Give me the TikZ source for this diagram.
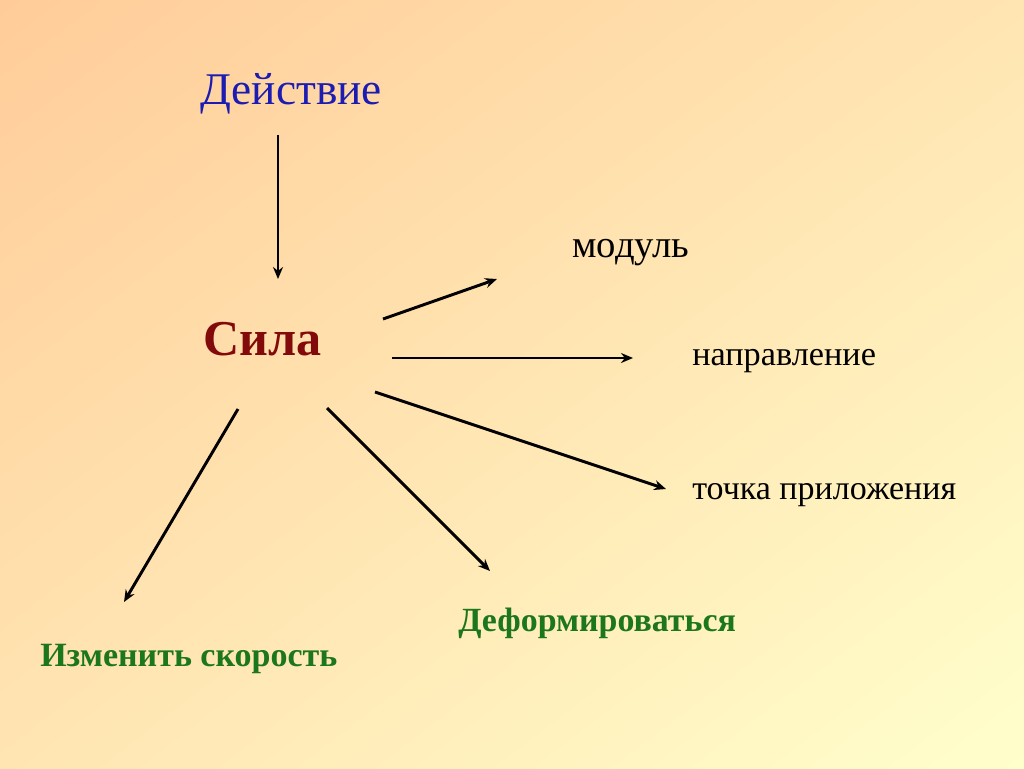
\documentclass[tikz,border=0pt]{standalone}
\usepackage{fontspec}
\setmainfont{Liberation Serif}
\usetikzlibrary{arrows.meta,shadings}
\definecolor{bgA}{RGB}{255,204,153}
\definecolor{bgB}{RGB}{255,255,204}
\definecolor{bgC}{RGB}{255,229,178}
\definecolor{txtblue}{RGB}{28,28,178}
\definecolor{txtred}{RGB}{130,10,10}
\definecolor{txtgreen}{RGB}{28,118,28}
\begin{document}
\begin{tikzpicture}[x=0.75pt,y=-0.75pt,
  lbl/.style={inner sep=0pt,anchor=base west},
  conn/.style={line width=2.2pt,-{Stealth[length=9pt,width=7.5pt]}}]
\useasboundingbox (0,0) rectangle (1024,768);
\shade[upper left=bgA,lower right=bgB,upper right=bgC,lower left=bgC] (0,0) rectangle (1024,768);
\node[lbl,text=txtblue,font=\fontsize{34}{40}\selectfont] (deist) at (200,104) {Действие};
\node[lbl,text=txtred,font=\fontsize{37.6}{44}\selectfont\bfseries] (sila) at (203,355) {Сила};
\node[lbl,font=\fontsize{29}{34}\selectfont] (modul) at (572,257) {модуль};
\node[lbl,font=\fontsize{25.7}{30}\selectfont] (napr) at (692,365) {направление};
\node[lbl,font=\fontsize{25.5}{30}\selectfont] (tochka) at (692,499) {точка приложения};
\node[lbl,text=txtgreen,font=\fontsize{25.5}{30}\selectfont\bfseries] (izm) at (40,666) {Изменить скорость};
\node[lbl,text=txtgreen,font=\fontsize{25.4}{30}\selectfont\bfseries] (def) at (458,631) {Деформироваться};
\coordinate (d1) at (278,135);
\coordinate (s0) at (278,279);
\coordinate (s1) at (383,319);
\coordinate (m1) at (497,279);
\coordinate (s2) at (392,358);
\coordinate (n1) at (633,358);
\coordinate (s3) at (375,392);
\coordinate (t1) at (666,489);
\coordinate (s4) at (327,408);
\coordinate (f1) at (490,571);
\coordinate (s5) at (238,409);
\coordinate (i1) at (124,602);
\draw[conn] (d1) -- (s0);
\draw[conn] (s1) -- (m1);
\draw[conn] (s2) -- (n1);
\draw[conn] (s3) -- (t1);
\draw[conn] (s4) -- (f1);
\draw[conn] (s5) -- (i1);
\end{tikzpicture}
\end{document}
